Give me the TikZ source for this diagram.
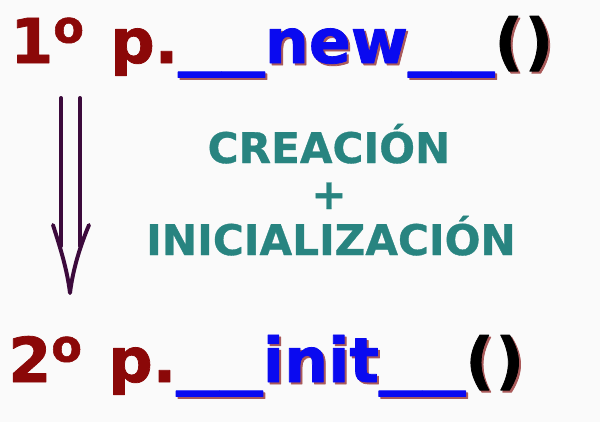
\documentclass[tikz,border=0pt]{standalone}
\usepackage{fontspec}
\setmainfont{DejaVu Sans}
\usepackage{graphicx}
\definecolor{rojo}{RGB}{139,8,8}
\definecolor{azul}{RGB}{10,10,240}
\definecolor{sombra}{RGB}{170,90,90}
\definecolor{verde}{RGB}{40,132,128}
\definecolor{morado}{RGB}{60,10,60}
\definecolor{fondo}{RGB}{250,250,250}
\newcommand{\guiones}{\scalebox{1.4}[1]{\_\_}}
\newcommand{\ordinal}{\raisebox{0.33em}{\scalebox{0.72}{o}}\hspace{0.08em}}
\newcommand{\metodo}[5]{\textcolor{#1}{#4\ordinal{} p.}\textcolor{#2}{\guiones#5\guiones}\textcolor{#3}{(\hspace{0.03em})}}
\begin{document}
\begin{tikzpicture}[x=0.025cm, y=-0.025cm, line cap=round, line join=round,
 linea/.style={anchor=base west, inner sep=0pt, font=\fontsize{44}{52}\selectfont\bfseries\addfontfeature{FakeBold=1.2}},
 rotulo/.style={anchor=base, inner sep=0pt, text=verde, font=\fontsize{30}{36}\selectfont\bfseries\addfontfeature{FakeBold=0.8}},
 flecha/.style={draw=morado, line width=2.8pt}]
 \fill[fondo] (0,0) rectangle (600,422);
 % primera llamada
 \node[linea] (nuevosombra) at (12,65) {\metodo{fondo}{sombra}{sombra}{1}{new}};
 \node[linea] (nuevo) at (10,63) {\metodo{rojo}{azul}{black}{1}{new}};
 % segunda llamada
 \node[linea] (iniciosombra) at (10,384) {\metodo{fondo}{sombra}{sombra}{2}{init}};
 \node[linea] (inicio) at (8,382) {\metodo{rojo}{azul}{black}{2}{init}};
 % flecha doble
 \draw[flecha] (61,98) -- (61,246);
 \draw[flecha] (80,98) -- (80,246);
 \draw[flecha] (53,225) .. controls (59,244) and (67,268) .. (70,293)
 .. controls (73,268) and (81,244) .. (89,225);
 % texto central
 \node[rotulo] (creacion) at (329,163) {CREACIÓN};
 \node[rotulo] (mas) at (329,209) {+};
 \node[rotulo] (inicializacion) at (331,255) {INICIALIZACIÓN};
\end{tikzpicture}
\end{document}
